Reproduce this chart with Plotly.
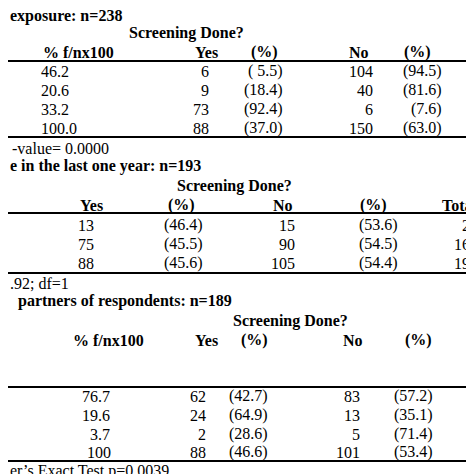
import plotly.graph_objects as go

# Section 1: exposure
s1_pct = ["46.2", "20.6", "33.2", "100.0"]
s1_yes = [6, 9, 73, 88]
s1_yes_pct = ["( 5.5)", "(18.4)", "(92.4)", "(37.0)"]
s1_no = [104, 40, 6, 150]
s1_no_pct = ["(94.5)", "(81.6)", "(7.6)", "(63.0)"]

# Section 2: last one year
s2_yes = [13, 75, 88]
s2_yes_pct = ["(46.4)", "(45.5)", "(45.6)"]
s2_no = [15, 90, 105]
s2_no_pct = ["(53.6)", "(54.5)", "(54.4)"]
s2_total = [28, 165, 193]

# Section 3: partners
s3_pct = ["76.7", "19.6", "3.7", "100"]
s3_yes = [62, 24, 2, 88]
s3_yes_pct = ["(42.7)", "(64.9)", "(28.6)", "(46.6)"]
s3_no = [83, 13, 5, 101]
s3_no_pct = ["(57.2)", "(35.1)", "(71.4)", "(53.4)"]

F = "Liberation Serif"
ann = []
def t(x, y, s, anchor="left", bold=False, size=16):
    ann.append(dict(x=x, y=y, text=f"<b>{s}</b>" if bold else s, xref="x", yref="y",
                    xanchor=anchor, yanchor="middle", showarrow=False,
                    font=dict(family=F, size=size, color="black")))

shapes = []
def line(y, w=2.2):
    shapes.append(dict(type="line", xref="x", yref="y", x0=0, x1=474, y0=y, y1=y,
                       line=dict(color="black", width=w)))

# Section 1
t(0, 8, "exposure: n=238", bold=True)
t(178, 25, "Screening Done?", "center", True)
t(33, 44, "% f/nx100", bold=True)
t(212, 44, "Yes", "right", True)
t(256, 44, "(%)", "center", True)
t(363, 44, "No", "right", True)
t(409, 44, "(%)", "center", True)
line(53)
for i, y in enumerate([63, 82, 101, 120]):
    t(31, y, s1_pct[i])
    t(203, y, str(s1_yes[i]), "right")
    t(277, y, s1_yes_pct[i], "right")
    t(367, y, str(s1_no[i]), "right")
    t(436, y, s1_no_pct[i], "right")
line(129)
t(2, 140, "-value= 0.0000")

# Section 2
t(0, 158, "e in the last one year: n=193", bold=True)
t(226, 178, "Screening Done?", "center", True)
t(83, 197, "Yes", "center", True)
t(173, 197, "(%)", "center", True)
t(275, 197, "No", "center", True)
t(365, 197, "(%)", "center", True)
t(472, 197, "Total", "right", True)
line(205)
for i, y in enumerate([217, 236, 255]):
    t(78, y, str(s2_yes[i]), "center")
    t(175, y, s2_yes_pct[i], "center")
    t(289, y, str(s2_no[i]), "right")
    t(370, y, s2_no_pct[i], "center")
    t(472, y, str(s2_total[i]), "right")
line(265)
t(0, 275, ".92; df=1")

# Section 3
t(8, 293, "partners of respondents: n=189", bold=True)
t(282, 313, "Screening Done?", "center", True)
t(100, 332, "% f/nx100", "center", True)
t(198, 332, "Yes", "center", True)
t(246, 332, "(%)", "center", True)
t(345, 332, "No", "center", True)
t(410, 332, "(%)", "center", True)
line(379)
for i, y in enumerate([388, 407, 426, 444]):
    t(77 if i == 3 else 104, y, s3_pct[i], "left" if i == 3 else "right")
    t(200, y, str(s3_yes[i]), "right")
    t(240, y, s3_yes_pct[i], "center")
    t(354, y, str(s3_no[i]), "right")
    t(405, y, s3_no_pct[i], "center")
line(453)
t(0, 463, "er\u2019s Exact Test p=0.0039")

fig = go.Figure()
fig.update_layout(width=474, height=474, margin=dict(l=0, r=0, t=0, b=0),
                  paper_bgcolor="white", plot_bgcolor="white",
                  xaxis=dict(range=[0, 474], visible=False, fixedrange=True),
                  yaxis=dict(range=[474, 0], visible=False, fixedrange=True),
                  annotations=ann, shapes=shapes, showlegend=False)
fig.write_html("out.html")
